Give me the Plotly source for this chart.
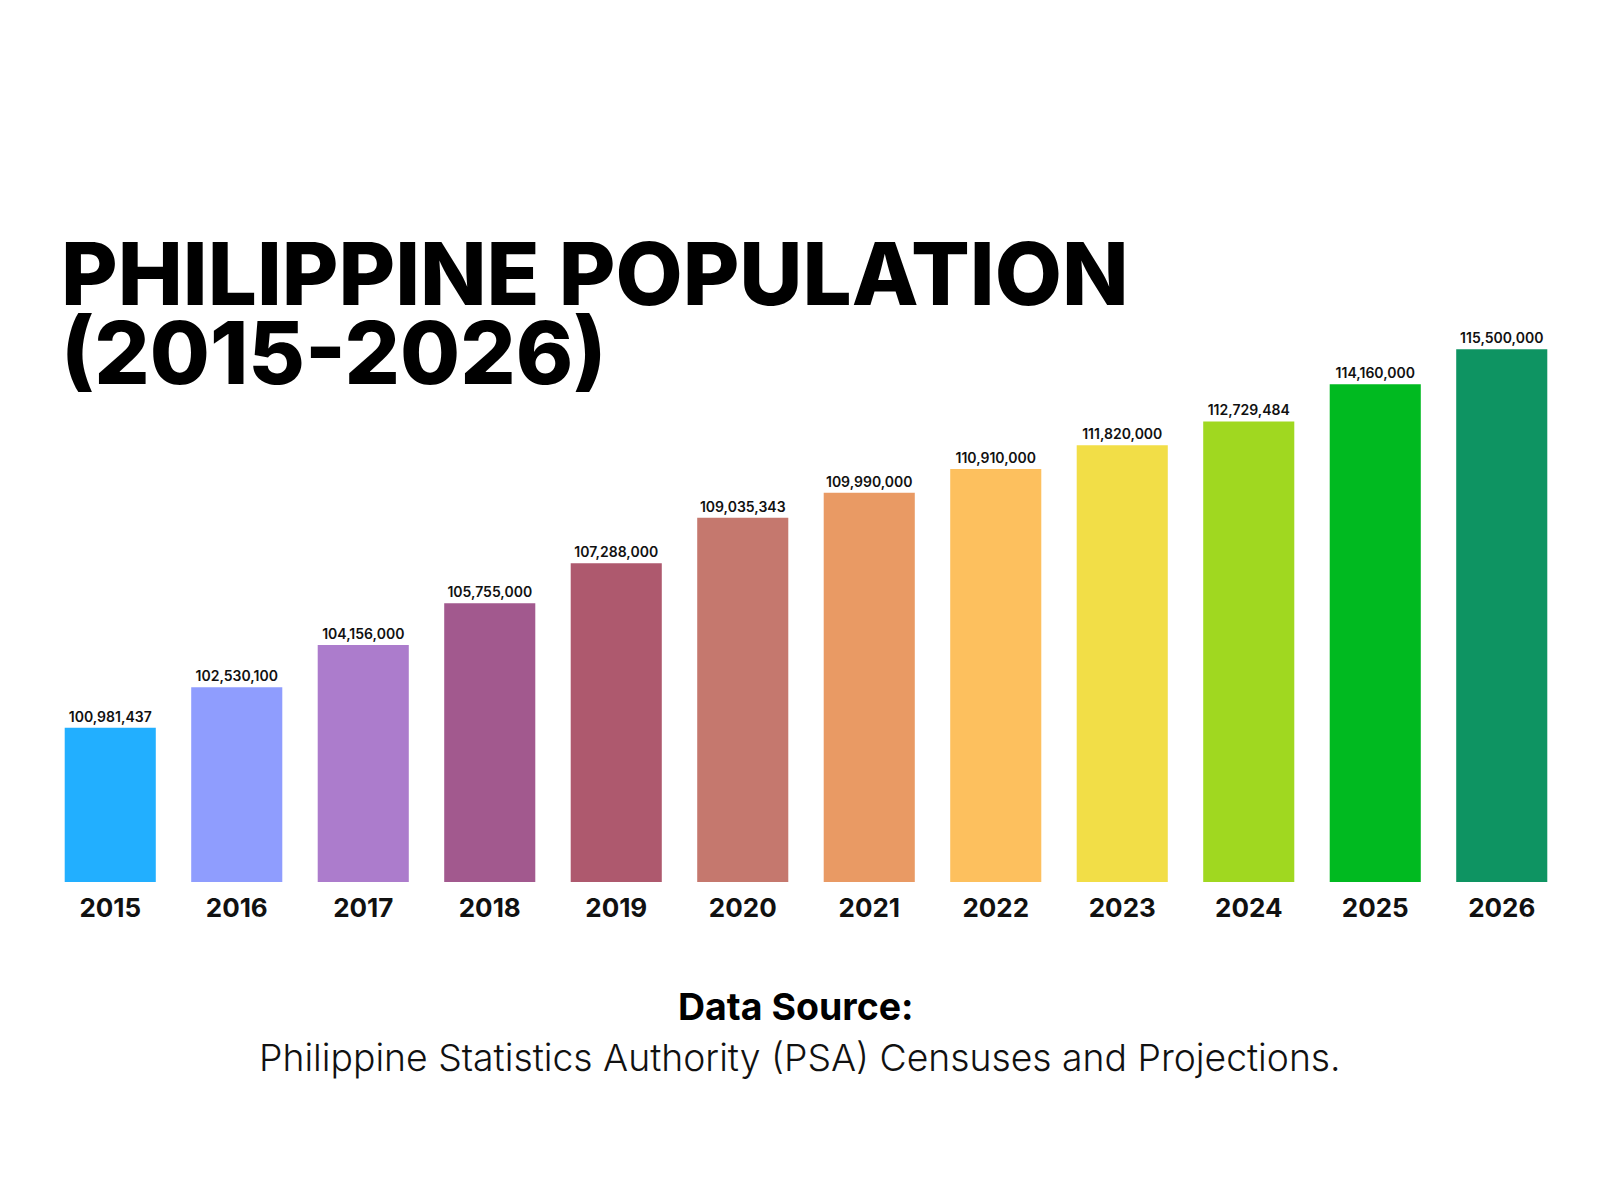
import plotly.graph_objects as go

years = ["2015", "2016", "2017", "2018", "2019", "2020", "2021", "2022", "2023", "2024", "2025", "2026"]
population = [100981437, 102530100, 104156000, 105755000, 107288000, 109035343,
              109990000, 110910000, 111820000, 112729484, 114160000, 115500000]
colors = ["#22AFFF", "#8F9DFE", "#AC7CCC", "#A2598E", "#AE596E", "#C5786E",
          "#E99A64", "#FDC05E", "#F2DE47", "#A0D820", "#00BA20", "#0E9462"]

title_line1 = "PHILIPPINE POPULATION"
title_line2 = "(2015-2026)"
source_head = "Data Source:"
source_body = "Philippine Statistics Authority (PSA) Censuses and Projections."

fig = go.Figure(go.Bar(
    x=years, y=population,
    marker=dict(color=colors, line=dict(width=0)),
    texttemplate="%{y:,}", textposition="outside",
    textfont=dict(family="Inter", size=14, color="#111111", weight=600),
    cliponaxis=False,
))

L, R, T, B = 47, 34.5, 300, 318
fig.update_layout(
    width=1600, height=1200,
    margin=dict(l=L, r=R, t=T, b=B),
    paper_bgcolor="white", plot_bgcolor="white",
    bargap=0.28, showlegend=False,
    xaxis=dict(showline=False, showgrid=False, zeroline=False, ticks="",
               ticklabelstandoff=8,
               tickfont=dict(family="Inter", size=26, color="#111111", weight=700)),
    yaxis=dict(visible=False, range=[95.06e6, 117.39e6]),
)

def py(pix):
    return (1200 - B - pix) / (1200 - T - B)

def px(pix):
    return (pix - L) / (1600 - L - R)

fig.add_annotation(text=title_line1, xref="paper", yref="paper", x=px(59), y=py(274),
                   xanchor="left", yanchor="middle", showarrow=False,
                   font=dict(family="Inter", size=87, color="#000000", weight=800))
fig.add_annotation(text=title_line2, xref="paper", yref="paper", x=px(59), y=py(352),
                   xanchor="left", yanchor="middle", showarrow=False,
                   font=dict(family="Inter", size=87, color="#000000", weight=800))
fig.add_annotation(text=source_head, xref="paper", yref="paper", x=px(796), y=py(1006),
                   xanchor="center", yanchor="middle", showarrow=False,
                   font=dict(family="Inter", size=37.5, color="#000000", weight=700))
fig.add_annotation(text=source_body, xref="paper", yref="paper", x=px(800), y=py(1057),
                   xanchor="center", yanchor="middle", showarrow=False,
                   font=dict(family="Inter", size=37.3, color="#111111", weight=300))

fig.write_html("out.html")
